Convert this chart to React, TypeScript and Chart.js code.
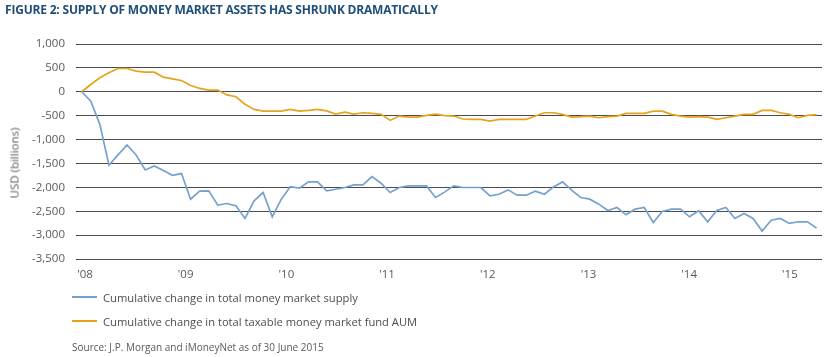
import React, { useEffect, useRef } from "react";
import { Chart, registerables } from "chart.js";

Chart.register(...registerables);

const supplyChange = [
  0, -195, -682, -1538, -1320, -1114, -1322, -1636, -1552, -1650,
  -1747, -1712, -2248, -2080, -2074, -2373, -2339, -2387, -2652, -2283,
  -2109, -2617, -2248, -1984, -2018, -1886, -1886, -2074, -2040, -2004,
  -1949, -1949, -1775, -1914, -2109, -2004, -1970, -1970, -1970, -2213,
  -2100, -1970, -2004, -2004, -2004, -2178, -2144, -2053, -2165, -2165,
  -2081, -2144, -1991, -1886, -2060, -2213, -2248, -2352, -2485, -2422,
  -2575, -2457, -2422, -2735, -2505, -2457, -2457, -2617, -2490, -2721,
  -2485, -2422, -2652, -2547, -2652, -2916, -2687, -2652, -2756, -2721,
  -2721, -2854,
];

const aumChange = [
  0, 153, 292, 397, 487, 487, 431, 411, 411, 306,
  271, 237, 132, 70, 35, 35, -65, -104, -260, -369,
  -404, -404, -404, -369, -404, -390, -369, -400, -466, -425,
  -466, -439, -452, -473, -599, -508, -529, -529, -494, -466,
  -500, -508, -570, -578, -578, -612, -578, -578, -578, -578,
  -508, -439, -439, -473, -529, -522, -508, -543, -522, -508,
  -452, -452, -452, -404, -404, -473, -508, -529, -522, -529,
  -578, -543, -508, -473, -473, -390, -390, -439, -473, -543,
  -494, -480,
];

const yearLabels = ["'08", "'09", "'10", "'11", "'12", "'13", "'14", "'15"];
const seriesNames = [
  "Cumulative change in total money market supply",
  "Cumulative change in total taxable money market fund AUM",
];
const titleText = "FIGURE 2: SUPPLY OF MONEY MARKET ASSETS HAS SHRUNK DRAMATICALLY";
const sourceText = "Source: J.P. Morgan and iMoneyNet as of 30 June 2015";
const yAxisTitle = "USD (billions)";

const BLUE = "#74a2cf";
const ORANGE = "#e6a31c";
const FIRST_TICK = 0.36;
const POINTS_PER_YEAR = 11.1;
const FONT = "'Open Sans', sans-serif";

export default function App() {
  const canvasRef = useRef<HTMLCanvasElement | null>(null);

  useEffect(() => {
    const canvas = canvasRef.current;
    if (!canvas) return;
    const toPoints = (arr: number[]) => arr.map((v, i) => ({ x: i, y: v }));
    const chart = new Chart(canvas, {
      type: "line",
      data: {
        datasets: [
          {
            label: seriesNames[0],
            data: toPoints(supplyChange),
            borderColor: BLUE,
            borderWidth: 1.7,
            pointRadius: 0,
            tension: 0,
          },
          {
            label: seriesNames[1],
            data: toPoints(aumChange),
            borderColor: ORANGE,
            borderWidth: 1.7,
            pointRadius: 0,
            tension: 0,
          },
        ],
      },
      options: {
        animation: false,
        responsive: false,
        maintainAspectRatio: false,
        layout: { padding: { left: 0, right: 5, top: 44, bottom: 68 } },
        plugins: {
          legend: { display: false },
          tooltip: { enabled: false },
          title: { display: false },
        },
        scales: {
          x: {
            type: "linear",
            min: -0.63,
            max: 81.6,
            grid: { display: false, drawTicks: false },
            border: { display: false },
            afterBuildTicks: (scale: any) => {
              scale.ticks = yearLabels.map((_, i) => ({
                value: FIRST_TICK + i * POINTS_PER_YEAR,
              }));
            },
            afterFit: (scale: any) => {
              scale.height = 30;
            },
            ticks: {
              autoSkip: false,
              maxRotation: 0,
              padding: 9,
              color: "#595959",
              font: { family: FONT, size: 11.5 },
              callback: (_v: any, i: number) => yearLabels[i],
            },
          },
          y: {
            type: "linear",
            min: -3500,
            max: 1000,
            grid: { color: "#4a4a4a", lineWidth: 1, drawTicks: false },
            border: { display: false },
            afterFit: (scale: any) => {
              scale.width = 76;
            },
            ticks: {
              stepSize: 500,
              padding: 11,
              color: "#595959",
              font: { family: FONT, size: 11.5 },
              callback: (v: any) => Number(v).toLocaleString("en-US"),
            },
          },
        },
      },
    });
    return () => chart.destroy();
  }, []);

  const legendRow = (color: string, text: string, top: number) => (
    <div
      style={{
        position: "absolute",
        left: 72,
        top,
        display: "flex",
        alignItems: "center",
        height: 16,
      }}
    >
      <div style={{ width: 25, height: 2, background: color, marginRight: 6 }} />
      <span style={{ fontFamily: FONT, fontSize: 11.2, color: "#4d4d4d", whiteSpace: "nowrap" }}>
        {text}
      </span>
    </div>
  );

  return (
    <div
      style={{
        position: "absolute",
        left: 0,
        top: 0,
        width: 827,
        height: 357,
        background: "#ffffff",
        overflow: "hidden",
      }}
    >
      <canvas ref={canvasRef} width={827} height={357} style={{ position: "absolute", left: 0, top: 0 }} />
      <div
        style={{
          position: "absolute",
          left: 5,
          top: 1,
          fontFamily: FONT,
          fontWeight: 700,
          fontSize: 12,
          color: "#1f4e79",
          whiteSpace: "nowrap",
          letterSpacing: -0.2,
        }}
      >
        {titleText}
      </div>
      <div
        style={{
          position: "absolute",
          left: 14,
          top: 163,
          transform: "translate(-50%, -50%) rotate(-90deg)",
          fontFamily: FONT,
          fontWeight: 400,
          fontSize: 11.5,
          color: "#595959",
          whiteSpace: "nowrap",
        }}
      >
        {yAxisTitle}
      </div>
      {legendRow(BLUE, seriesNames[0], 289)}
      {legendRow(ORANGE, seriesNames[1], 313)}
      <div
        style={{
          position: "absolute",
          left: 72,
          top: 340,
          fontFamily: FONT,
          fontSize: 10,
          color: "#595959",
          whiteSpace: "nowrap",
        }}
      >
        {sourceText}
      </div>
    </div>
  );
}
